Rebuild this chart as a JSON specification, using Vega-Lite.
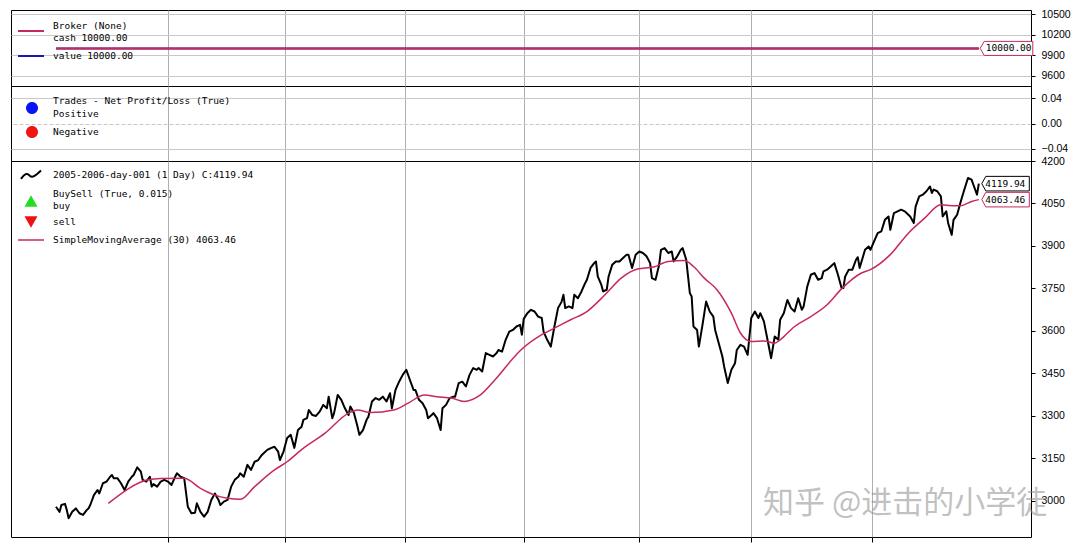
{
  "$schema": "https://vega.github.io/schema/vega-lite/v6.json",
  "padding": {"left": 10, "top": 8, "right": 0, "bottom": 0},
  "background": "white",
  "spacing": 0,
  "bounds": "flush",
  "resolve": {
    "scale": {"color": "independent", "x": "independent", "y": "independent"},
    "legend": {"color": "independent"}
  },
  "config": {
    "view": {"stroke": "#000000", "strokeWidth": 1},
    "axis": {
      "domain": false,
      "title": null,
      "gridColor": "#b8b8b8",
      "gridWidth": 1,
      "tickColor": "#000000",
      "tickSize": 4,
      "labelFont": "Liberation Sans",
      "labelFontSize": 10.5,
      "labelColor": "#000000",
      "labelPadding": 6,
      "labelOverlap": false,
      "labelFlush": false
    },
    "legend": {
      "orient": "top-left",
      "offset": 8,
      "padding": 0,
      "title": null,
      "labelFont": "DejaVu Sans Mono",
      "labelFontSize": 9.5,
      "labelColor": "#000000",
      "labelLimit": 600
    }
  },
  "datasets": {
    "broker": [
      {"i": 0, "v": 10000},
      {"i": 511, "v": 10000}
    ],
    "close": [
      {"i":0,"c":2978},{"i":2,"c":2960},{"i":3,"c":2984},{"i":5,"c":2988},{"i":6,"c":2966},{"i":7,"c":2937},{"i":9,"c":2960},{"i":11,"c":2972},{"i":13,"c":2955},{"i":15,"c":2949},{"i":17,"c":2966},{"i":18,"c":2972},{"i":19,"c":2984},{"i":21,"c":3019},{"i":23,"c":3037},{"i":24,"c":3025},{"i":26,"c":3061},{"i":28,"c":3067},{"i":30,"c":3084},{"i":31,"c":3090},{"i":32,"c":3079},{"i":34,"c":3079},{"i":36,"c":3061},{"i":38,"c":3037},{"i":40,"c":3067},{"i":42,"c":3084},{"i":43,"c":3090},{"i":45,"c":3117},{"i":47,"c":3102},{"i":48,"c":3073},{"i":50,"c":3067},{"i":52,"c":3084},{"i":53,"c":3049},{"i":54,"c":3058},{"i":56,"c":3049},{"i":58,"c":3067},{"i":60,"c":3073},{"i":62,"c":3067},{"i":64,"c":3055},{"i":66,"c":3084},{"i":67,"c":3096},{"i":69,"c":3084},{"i":71,"c":3079},{"i":73,"c":2978},{"i":75,"c":2955},{"i":77,"c":2957},{"i":78,"c":2990},{"i":80,"c":2960},{"i":82,"c":2943},{"i":84,"c":2960},{"i":86,"c":3002},{"i":88,"c":3025},{"i":90,"c":3002},{"i":91,"c":2984},{"i":93,"c":2996},{"i":95,"c":3002},{"i":97,"c":3049},{"i":99,"c":3073},{"i":101,"c":3084},{"i":102,"c":3096},{"i":104,"c":3084},{"i":106,"c":3126},{"i":108,"c":3108},{"i":110,"c":3137},{"i":112,"c":3143},{"i":114,"c":3161},{"i":115,"c":3167},{"i":117,"c":3179},{"i":119,"c":3185},{"i":121,"c":3190},{"i":123,"c":3173},{"i":124,"c":3143},{"i":126,"c":3173},{"i":128,"c":3221},{"i":130,"c":3232},{"i":132,"c":3186},{"i":134,"c":3249},{"i":136,"c":3261},{"i":137,"c":3285},{"i":139,"c":3291},{"i":140,"c":3320},{"i":142,"c":3302},{"i":144,"c":3299},{"i":146,"c":3314},{"i":148,"c":3338},{"i":150,"c":3326},{"i":151,"c":3367},{"i":153,"c":3291},{"i":154,"c":3309},{"i":156,"c":3373},{"i":158,"c":3356},{"i":160,"c":3326},{"i":162,"c":3302},{"i":163,"c":3332},{"i":165,"c":3309},{"i":167,"c":3261},{"i":168,"c":3232},{"i":170,"c":3249},{"i":172,"c":3285},{"i":173,"c":3296},{"i":175,"c":3350},{"i":177,"c":3362},{"i":179,"c":3356},{"i":181,"c":3367},{"i":183,"c":3350},{"i":185,"c":3379},{"i":186,"c":3326},{"i":188,"c":3391},{"i":190,"c":3420},{"i":192,"c":3444},{"i":194,"c":3462},{"i":196,"c":3426},{"i":198,"c":3391},{"i":199,"c":3391},{"i":201,"c":3356},{"i":203,"c":3344},{"i":205,"c":3320},{"i":206,"c":3291},{"i":208,"c":3302},{"i":209,"c":3309},{"i":211,"c":3291},{"i":213,"c":3249},{"i":214,"c":3326},{"i":216,"c":3338},{"i":218,"c":3362},{"i":220,"c":3367},{"i":221,"c":3367},{"i":223,"c":3415},{"i":225,"c":3420},{"i":227,"c":3403},{"i":229,"c":3444},{"i":231,"c":3468},{"i":233,"c":3462},{"i":234,"c":3468},{"i":236,"c":3456},{"i":238,"c":3521},{"i":240,"c":3515},{"i":242,"c":3509},{"i":244,"c":3521},{"i":245,"c":3532},{"i":247,"c":3526},{"i":249,"c":3568},{"i":251,"c":3597},{"i":253,"c":3603},{"i":255,"c":3615},{"i":257,"c":3621},{"i":258,"c":3586},{"i":259,"c":3642},{"i":261,"c":3662},{"i":263,"c":3674},{"i":265,"c":3668},{"i":267,"c":3650},{"i":269,"c":3645},{"i":270,"c":3597},{"i":272,"c":3568},{"i":274,"c":3544},{"i":276,"c":3615},{"i":278,"c":3680},{"i":280,"c":3703},{"i":281,"c":3727},{"i":282,"c":3680},{"i":284,"c":3686},{"i":286,"c":3680},{"i":287,"c":3727},{"i":289,"c":3715},{"i":291,"c":3739},{"i":293,"c":3768},{"i":294,"c":3780},{"i":296,"c":3822},{"i":298,"c":3839},{"i":299,"c":3845},{"i":300,"c":3792},{"i":302,"c":3762},{"i":303,"c":3739},{"i":305,"c":3745},{"i":306,"c":3792},{"i":308,"c":3833},{"i":310,"c":3845},{"i":312,"c":3845},{"i":314,"c":3857},{"i":316,"c":3869},{"i":317,"c":3869},{"i":319,"c":3822},{"i":321,"c":3869},{"i":323,"c":3880},{"i":325,"c":3875},{"i":327,"c":3863},{"i":329,"c":3839},{"i":330,"c":3786},{"i":332,"c":3780},{"i":334,"c":3833},{"i":335,"c":3886},{"i":337,"c":3892},{"i":339,"c":3875},{"i":341,"c":3880},{"i":342,"c":3845},{"i":344,"c":3863},{"i":346,"c":3886},{"i":347,"c":3892},{"i":349,"c":3851},{"i":350,"c":3792},{"i":351,"c":3733},{"i":352,"c":3721},{"i":353,"c":3615},{"i":355,"c":3603},{"i":356,"c":3544},{"i":358,"c":3621},{"i":360,"c":3703},{"i":362,"c":3668},{"i":364,"c":3650},{"i":365,"c":3603},{"i":367,"c":3556},{"i":369,"c":3509},{"i":370,"c":3473},{"i":372,"c":3415},{"i":374,"c":3462},{"i":376,"c":3485},{"i":377,"c":3532},{"i":379,"c":3550},{"i":381,"c":3544},{"i":383,"c":3515},{"i":385,"c":3645},{"i":387,"c":3668},{"i":389,"c":3645},{"i":390,"c":3662},{"i":392,"c":3633},{"i":394,"c":3568},{"i":396,"c":3503},{"i":398,"c":3580},{"i":400,"c":3568},{"i":401,"c":3639},{"i":403,"c":3662},{"i":405,"c":3709},{"i":407,"c":3680},{"i":409,"c":3668},{"i":411,"c":3715},{"i":413,"c":3674},{"i":414,"c":3686},{"i":416,"c":3756},{"i":418,"c":3798},{"i":420,"c":3804},{"i":422,"c":3780},{"i":424,"c":3786},{"i":425,"c":3810},{"i":427,"c":3816},{"i":429,"c":3827},{"i":431,"c":3839},{"i":433,"c":3798},{"i":435,"c":3751},{"i":436,"c":3751},{"i":437,"c":3792},{"i":439,"c":3816},{"i":441,"c":3816},{"i":443,"c":3851},{"i":444,"c":3860},{"i":445,"c":3822},{"i":448,"c":3886},{"i":450,"c":3898},{"i":451,"c":3886},{"i":453,"c":3916},{"i":455,"c":3945},{"i":457,"c":3951},{"i":459,"c":3992},{"i":461,"c":4004},{"i":462,"c":3957},{"i":464,"c":4016},{"i":466,"c":4022},{"i":468,"c":4028},{"i":470,"c":4022},{"i":471,"c":4016},{"i":473,"c":4004},{"i":475,"c":3981},{"i":476,"c":4039},{"i":478,"c":4075},{"i":480,"c":4081},{"i":482,"c":4093},{"i":484,"c":4110},{"i":485,"c":4087},{"i":486,"c":4099},{"i":488,"c":4093},{"i":490,"c":4075},{"i":491,"c":4004},{"i":493,"c":4022},{"i":494,"c":3981},{"i":496,"c":3939},{"i":497,"c":3992},{"i":499,"c":4010},{"i":501,"c":4057},{"i":503,"c":4099},{"i":505,"c":4140},{"i":507,"c":4134},{"i":508,"c":4116},{"i":510,"c":4081},{"i":511,"c":4119.94}
    ],
    "sma": [
      {"i":29,"s":2990},{"i":51,"s":3073},{"i":58,"s":3078},{"i":71,"s":3079},{"i":80,"s":3043},{"i":88,"s":3019},{"i":95,"s":3008},{"i":102,"s":3004},{"i":110,"s":3049},{"i":121,"s":3108},{"i":128,"s":3137},{"i":136,"s":3180},{"i":149,"s":3238},{"i":162,"s":3309},{"i":167,"s":3320},{"i":174,"s":3311},{"i":187,"s":3320},{"i":195,"s":3344},{"i":204,"s":3373},{"i":211,"s":3367},{"i":219,"s":3362},{"i":226,"s":3350},{"i":235,"s":3373},{"i":243,"s":3426},{"i":254,"s":3509},{"i":257,"s":3529},{"i":269,"s":3586},{"i":276,"s":3609},{"i":285,"s":3639},{"i":294,"s":3668},{"i":304,"s":3727},{"i":313,"s":3786},{"i":322,"s":3818},{"i":331,"s":3825},{"i":339,"s":3845},{"i":348,"s":3848},{"i":353,"s":3827},{"i":359,"s":3786},{"i":366,"s":3745},{"i":374,"s":3662},{"i":379,"s":3592},{"i":385,"s":3562},{"i":392,"s":3564},{"i":398,"s":3556},{"i":401,"s":3568},{"i":409,"s":3615},{"i":418,"s":3650},{"i":427,"s":3692},{"i":435,"s":3748},{"i":446,"s":3804},{"i":451,"s":3816},{"i":462,"s":3869},{"i":472,"s":3945},{"i":481,"s":3998},{"i":490,"s":4045},{"i":496,"s":4042},{"i":501,"s":4042},{"i":507,"s":4057},{"i":511,"s":4063.46}
    ]
  },
  "vconcat": [
    {
      "width": 1020,
      "height": 76,
      "encoding": {
        "x": {
          "field": "i", "type": "quantitative",
          "scale": {"domain": [-24.9, 539.9], "nice": false, "zero": false},
          "axis": {"grid": true, "ticks": false, "labels": false, "values": [62, 127, 193, 259, 323, 385, 452], "gridColor": "#b0b0b0"}
        },
        "y": {
          "field": "v", "type": "quantitative",
          "scale": {"domain": [9449, 10563], "nice": false, "zero": false},
          "axis": {"orient": "right", "values": [9600, 9900, 10200, 10500], "format": "d", "grid": true, "gridColor": "#c8c8c8", "labelOverlap": false}
        }
      },
      "layer": [
        {
          "data": {"name": "broker"},
          "mark": {"type": "line", "strokeWidth": 2},
          "encoding": {
            "color": {
              "datum": "value 10000.00", "type": "nominal",
              "scale": {"domain": ["Broker (None)|cash 10000.00", "value 10000.00"], "range": ["#c8285a", "#1a1aa8"]},
              "legend": {
                "symbolType": "M-1.083,0 L1.083,0", "symbolSize": 576, "symbolStrokeWidth": 2,
                "rowPadding": 0, "symbolOffset": -1, "labelOffset": 9,
                "labelExpr": "split(datum.label, '|')",
                "encode": {"labels": {"update": {
                  "lineHeight": {"value": 12},
                  "dy": {"signal": "indexof(datum.label, '|') >= 0 ? -5 : 0"}
                }}}
              }
            }
          }
        },
        {
          "data": {"name": "broker"},
          "mark": {"type": "line", "strokeWidth": 2},
          "encoding": {
            "color": {"datum": "Broker (None)|cash 10000.00", "type": "nominal"}
          }
        },
        {
          "data": {"values": [{"i": 511, "v": 10000, "label": "10000.00"}]},
          "mark": {"type": "point", "shape": "M0.05,0 L0.2,-0.26 L2,-0.26 L2,0.26 L0.2,0.26 Z", "size": 2916, "filled": true, "fill": "#ffffff", "stroke": "#c8285a", "strokeWidth": 1, "opacity": 1}
        },
        {
          "data": {"values": [{"i": 511, "v": 10000, "label": "10000.00"}]},
          "mark": {"type": "text", "align": "left", "baseline": "middle", "dx": 7, "font": "DejaVu Sans Mono", "fontSize": 9.5, "color": "#000000"},
          "encoding": {"text": {"field": "label"}}
        }
      ]
    },
    {
      "width": 1020,
      "height": 75,
      "data": {"values": []},
      "mark": {"type": "point", "filled": true, "opacity": 1},
      "encoding": {
        "x": {
          "field": "i", "type": "quantitative",
          "scale": {"domain": [-24.9, 539.9], "nice": false, "zero": false},
          "axis": {"grid": true, "ticks": false, "labels": false, "values": [62, 127, 193, 259, 323, 385, 452], "gridColor": "#b0b0b0"}
        },
        "y": {
          "field": "pnl", "type": "quantitative",
          "scale": {"domain": [-0.059, 0.0595], "nice": false, "zero": false},
          "axis": {"orient": "right", "values": [-0.04, 0, 0.04], "format": ".2f", "grid": true, "gridColor": "#c8c8c8", "labelOverlap": false,
                   "gridDash": {"condition": {"test": "datum.value === 0", "value": [4, 2]}, "value": []}}
        },
        "color": {
          "field": "kind", "type": "nominal",
          "scale": {"domain": ["Trades - Net Profit/Loss (True)|Positive", "Negative"], "range": ["#0a14f0", "#f01414"]},
          "legend": {
            "symbolType": "M-0.43,0 A0.43,0.43 0 1,0 0.43,0 A0.43,0.43 0 1,0 -0.43,0 Z",
            "symbolSize": 784, "symbolStrokeWidth": 0, "symbolOpacity": 1,
            "symbolOffset": -1, "labelOffset": 7, "rowPadding": 0,
            "labelExpr": "split(datum.label, '|')",
            "encode": {"labels": {"update": {
              "lineHeight": {"value": 12.5},
              "dy": {"signal": "indexof(datum.label, '|') >= 0 ? -7 : 0"}
            }}}
          }
        }
      }
    },
    {
      "width": 1020,
      "height": 376,
      "title": {
        "text": "知乎 @进击的小学徒",
        "orient": "bottom", "anchor": "end", "offset": -54, "dx": -17,
        "font": "Noto Sans CJK SC", "fontSize": 31, "fontWeight": "normal",
        "color": "rgba(140,140,140,0.55)"
      },
      "encoding": {
        "x": {
          "field": "i", "type": "quantitative",
          "scale": {"domain": [-24.9, 539.9], "nice": false, "zero": false},
          "axis": {"grid": true, "ticks": true, "tickSize": 5, "labels": false, "values": [62, 127, 193, 259, 323, 385, 452], "gridColor": "#b0b0b0"}
        }
      },
      "layer": [
        {
          "data": {"name": "close"},
          "mark": {"type": "line", "strokeWidth": 2, "strokeJoin": "round"},
          "encoding": {
            "y": {
              "field": "c", "type": "quantitative",
              "scale": {"domain": [2871, 4200], "nice": false, "zero": false},
              "axis": {"orient": "right", "values": [3000, 3150, 3300, 3450, 3600, 3750, 3900, 4050, 4200], "format": "d", "grid": false, "labelOverlap": false}
            },
            "color": {
              "datum": "2005-2006-day-001 (1 Day) C:4119.94", "type": "nominal",
              "scale": {
                "domain": ["2005-2006-day-001 (1 Day) C:4119.94", "BuySell (True, 0.015)|buy", "sell", "SimpleMovingAverage (30) 4063.46"],
                "range": ["#000000", "#22dd22", "#ee1111", "#c8285a"]
              },
              "legend": {
                "symbolSize": 144, "rowPadding": 6, "symbolOffset": 6, "labelOffset": 16,
                "labelExpr": "split(datum.label, '|')",
                "encode": {
                  "labels": {"update": {
                    "lineHeight": {"value": 11.5},
                    "dy": {"signal": "indexof(datum.label, '|') >= 0 ? -7 : 0"}
                  }},
                  "symbols": {"update": {
                    "shape": {"signal": "datum.index === 0 ? 'M-1.67,0.65 C-1.08,-0.22 -0.65,-0.43 -0.22,0.11 C0.22,0.54 0.65,0.22 1.67,-0.75' : datum.index === 1 ? 'M0,-0.314 L0.361,0.314 L-0.361,0.314 Z' : datum.index === 2 ? 'M0,0.807 L0.929,-0.807 L-0.929,-0.807 Z' : 'M-2.17,0 L2.17,0'"},
                    "size": {"signal": "(datum.index === 1 ? 1296 : datum.index === 2 ? 196 : 144)"},
                    "fill": {"signal": "datum.index === 1 ? '#22dd22' : datum.index === 2 ? '#ee1111' : 'transparent'"},
                    "stroke": {"signal": "datum.index === 0 ? '#000000' : datum.index === 3 ? '#c8285a' : 'transparent'"},
                    "strokeWidth": {"signal": "(datum.index === 0 ? 2 : datum.index === 3 ? 1.5 : 0)"},
                    "opacity": {"value": 1}
                  }}
                }
              }
            }
          }
        },
        {
          "data": {"name": "sma"},
          "mark": {"type": "line", "strokeWidth": 1.5, "interpolate": "monotone"},
          "encoding": {
            "y": {"field": "s", "type": "quantitative"},
            "color": {"datum": "SimpleMovingAverage (30) 4063.46", "type": "nominal"}
          }
        },
        {
          "data": {"values": [{"i": 511, "c": 4119.94, "label": "4119.94"}]},
          "mark": {"type": "point", "shape": "M0.11,0 L0.26,-0.27 L1.87,-0.27 L1.87,0.27 L0.26,0.27 Z", "size": 2916, "filled": true, "fill": "#ffffff", "stroke": "#000000", "strokeWidth": 1, "opacity": 1},
          "encoding": {"y": {"field": "c", "type": "quantitative"}}
        },
        {
          "data": {"values": [{"i": 511, "c": 4063.46, "label": "4063.46"}]},
          "mark": {"type": "point", "shape": "M0.11,0 L0.26,-0.27 L1.87,-0.27 L1.87,0.27 L0.26,0.27 Z", "size": 2916, "filled": true, "fill": "#ffffff", "stroke": "#c8285a", "strokeWidth": 1, "opacity": 1},
          "encoding": {"y": {"field": "c", "type": "quantitative"}}
        },
        {
          "data": {"values": [{"i": 511, "c": 4119.94, "label": "4119.94"}, {"i": 511, "c": 4063.46, "label": "4063.46"}]},
          "mark": {"type": "text", "align": "left", "baseline": "middle", "dx": 6.5, "font": "DejaVu Sans Mono", "fontSize": 9.5, "color": "#000000"},
          "encoding": {"y": {"field": "c", "type": "quantitative"}, "text": {"field": "label"}}
        }
      ]
    }
  ]
}
